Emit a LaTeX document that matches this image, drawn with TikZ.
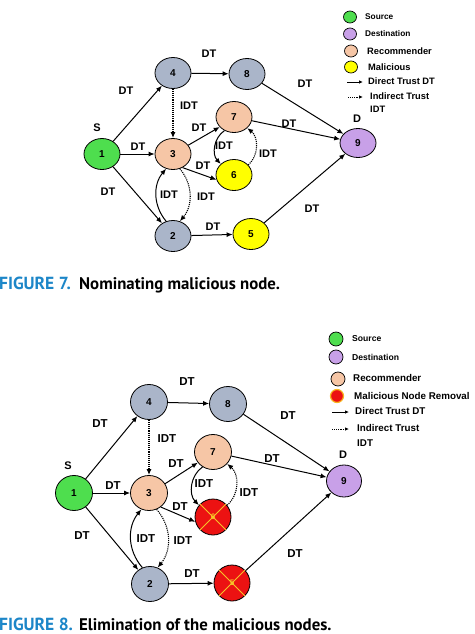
\documentclass[tikz,border=0pt]{standalone}
\usepackage{fontspec}
\setmainfont{Liberation Sans}
\newfontfamily\capfont{PT Sans}
\usetikzlibrary{shapes.geometric, arrows.meta}
\usepackage{xcolor}
\definecolor{src_green}{RGB}{78,222,78}
\definecolor{dst_purple}{RGB}{200,160,232}
\definecolor{rec_peach}{RGB}{246,198,166}
\definecolor{peer_gray}{RGB}{170,181,201}
\definecolor{mal_yellow}{RGB}{255,255,0}
\definecolor{rem_red}{RGB}{236,18,18}
\definecolor{cross_yellow}{RGB}{246,196,40}
\definecolor{cap_blue}{RGB}{28,134,200}

\newcommand{\fsz}[1]{\fontsize{#1}{#1}\selectfont\bfseries}

\tikzset{
  peer/.style={ellipse, draw, line width=0.8pt, fill=peer_gray, inner sep=0pt,
    minimum width=36pt, minimum height=31pt, font=\fsz{10}},
  big/.style={minimum width=37pt, minimum height=35pt},
  src/.style={peer, fill=src_green},
  dst/.style={peer, fill=dst_purple},
  rec/.style={peer, fill=rec_peach},
  mal/.style={peer, fill=mal_yellow},
  removed/.style={circle, draw, line width=0.8pt, fill=rem_red, minimum size=36pt,
    inner sep=0pt, font=\fsz{8}, text=cross_yellow},
  dt/.style={-{Latex[length=6pt, width=5pt]}, line width=1pt},
  idt/.style={-{Latex[length=6pt, width=5pt]}, line width=1.1pt, densely dotted},
  lbl/.style={inner sep=0pt, font=\fsz{11}},
  key/.style={ellipse, draw, line width=0.7pt, inner sep=0pt, minimum width=13pt, minimum height=12pt},
  keytext/.style={anchor=west, inner sep=0pt},
  captag/.style={anchor=base west, inner sep=0pt, font=\capfont\fsz{17.5}, text=cap_blue},
  captext/.style={anchor=base west, inner sep=0pt, font=\capfont\fsz{16.8}},
}

\begin{document}
\begin{tikzpicture}[x=1pt, y=-1pt]
  \useasboundingbox[fill=white] (0,0) rectangle (474,634);

  % ---------------- FIGURE 7 ----------------
  % 1. Nodos
  \node[src] (a1) at (102,154) {1};
  \node[peer] (a2) at (173,236) {2};
  \node[rec] (a3) at (173,154) {3};
  \node[peer] (a4) at (173,73) {4};
  \node[mal] (a5) at (251,234) {5};
  \node[mal] (a6) at (234,175) {6};
  \node[rec] (a7) at (234,117) {7};
  \node[peer] (a8) at (247,74) {8};
  \node[dst, minimum height=29pt] (a9) at (358,143) {9};
  \node[lbl] (aS) at (97,128) {S};
  \node[lbl] (aD) at (357,119) {D};

  % 2. Aristas
  \draw[dt] (a1) -- (a4);
  \draw[dt] (a1) -- (a3);
  \draw[dt] (a1) -- (a2);
  \draw[dt] (a4) -- (a8);
  \draw[dt] (a8) -- (a9);
  \draw[idt, line width=1.4pt] (a4) -- (a3);
  \draw[dt] (a3.30) -- (a7.215);
  \draw[dt] (a3.-55) -- (a6.195);
  \draw[dt] (a7) -- (a9);
  \draw[dt] (a2) -- (a5);
  \draw[dt] (a5) -- (a9);
  \draw[dt] (a7.235) to[bend right=50] (a6.140);
  \draw[idt] (a6.35) to[bend right=50] (a7.320);
  \draw[dt] (a2.115) to[bend left=40] (a3.245);
  \draw[idt] (a3.295) to[bend left=40] (a2.65);

  % 3. Etiquetas
  \node[lbl] at (126,91) {DT};
  \node[lbl] at (209,54) {DT};
  \node[lbl] at (305,84) {DT};
  \node[lbl] at (189,106) {IDT};
  \node[lbl] at (199,128) {DT};
  \node[lbl] at (289,124) {DT};
  \node[lbl] at (138,147) {DT};
  \node[lbl] at (224,146) {IDT};
  \node[lbl] at (268,154) {IDT};
  \node[lbl] at (203,166) {DT};
  \node[lbl] at (108,192) {DT};
  \node[lbl] at (169,195) {IDT};
  \node[lbl] at (206,197) {IDT};
  \node[lbl] at (312,209) {DT};
  \node[lbl] at (213,227) {DT};

  % 4. Leyenda
  \node[key, fill=src_green] (ka1) at (350,17) {};
  \node[key, fill=dst_purple] (ka2) at (350,34) {};
  \node[key, fill=rec_peach] (ka3) at (351,51) {};
  \node[key, fill=mal_yellow] (ka4) at (351,67) {};
  \node[keytext, font=\fsz{8.3}] at (365,17) {Source};
  \node[keytext, font=\fsz{8.3}] at (365,34) {Destination};
  \node[keytext, font=\fsz{9.3}] at (367,51) {Recommender};
  \node[keytext, font=\fsz{9.3}] at (368,67) {Malicious};
  \coordinate (ka5) at (347,82);
  \coordinate (ka6) at (363,82);
  \coordinate (ka7) at (348,97);
  \coordinate (ka8) at (363,97);
  \draw[dt, line width=0.8pt, -{Latex[length=4pt, width=3.5pt]}] (ka5) -- (ka6);
  \draw[idt, line width=0.8pt, -{Latex[length=4pt, width=3.5pt]}] (ka7) -- (ka8);
  \node[keytext, font=\fsz{9.3}] at (368,81) {Direct Trust DT};
  \node[keytext, font=\fsz{9.3}] at (370,96) {Indirect Trust};
  \node[keytext, font=\fsz{9.3}] at (370,109) {IDT};

  % 5. Titulo
  \node[captag] at (-1,289) {FIGURE 7.};
  \node[captext] at (79,289) {Nominating malicious node.};

  % ---------------- FIGURE 8 ----------------
  % 1. Nodos
  \node[src, big] (b1) at (74,493) {1};
  \node[peer, big] (b2) at (150,584) {2};
  \node[rec, big] (b3) at (149,493) {3};
  \node[peer, big] (b4) at (149,402) {4};
  \node[removed] (b5) at (232,583) {5};
  \node[removed] (b6) at (213,517) {6};
  \node[rec, big] (b7) at (213,452) {7};
  \node[peer, big] (b8) at (228,404) {8};
  \node[dst, minimum width=35pt, minimum height=32pt] (b9) at (344,481) {9};
  \node[lbl] (bS) at (68,466) {S};
  \node[lbl] (bD) at (343,455) {D};
  % cruces sobre los nodos eliminados
  \foreach \n in {b5,b6}{
    \draw[cross_yellow, line width=1pt] (\n.45) -- (\n.225) (\n.135) -- (\n.315);
  }

  % 2. Aristas
  \draw[dt] (b1) -- (b4);
  \draw[dt] (b1) -- (b3);
  \draw[dt] (b1) -- (b2);
  \draw[dt] (b4) -- (b8);
  \draw[dt] (b8) -- (b9);
  \draw[idt, line width=1.4pt] (b4) -- (b3);
  \draw[dt] (b3.30) -- (b7.215);
  \draw[dt] (b3.-50) -- (b6.195);
  \draw[dt] (b7) -- (b9);
  \draw[dt] (b2) -- (b5);
  \draw[dt] (b5) -- (b9);
  \draw[dt] (b7.235) to[bend right=50] (b6.140);
  \draw[idt] (b6.40) to[bend right=50] (b7.320);
  \draw[dt] (b2.115) to[bend left=40] (b3.245);
  \draw[idt] (b3.295) to[bend left=40] (b2.65);

  % 3. Etiquetas
  \node[lbl, font=\fsz{11.5}] at (100,424) {DT};
  \node[lbl, font=\fsz{11.5}] at (187,382) {DT};
  \node[lbl, font=\fsz{11.5}] at (288,416) {DT};
  \node[lbl, font=\fsz{11.5}] at (167,439) {IDT};
  \node[lbl, font=\fsz{11.5}] at (176,464) {DT};
  \node[lbl, font=\fsz{11.5}] at (272,459) {DT};
  \node[lbl, font=\fsz{11.5}] at (113,486) {DT};
  \node[lbl, font=\fsz{11.5}] at (204,484) {IDT};
  \node[lbl, font=\fsz{11.5}] at (249,493) {IDT};
  \node[lbl, font=\fsz{11.5}] at (180,507) {DT};
  \node[lbl, font=\fsz{11.5}] at (82,536) {DT};
  \node[lbl, font=\fsz{11.5}] at (146,539) {IDT};
  \node[lbl, font=\fsz{11.5}] at (183,541) {IDT};
  \node[lbl, font=\fsz{11.5}] at (295,554) {DT};
  \node[lbl, font=\fsz{11.5}] at (192,574) {DT};

  % 4. Leyenda
  \node[key, fill=src_green, minimum width=14pt, minimum height=14pt] (kb1) at (336,339) {};
  \node[key, fill=dst_purple, minimum width=14pt, minimum height=14pt] (kb2) at (336,357) {};
  \node[key, fill=rec_peach, minimum width=14pt, minimum height=14pt] (kb3) at (338,379) {};
  \node[circle, fill=rem_red, draw=cross_yellow!80!orange, line width=1.2pt, minimum size=13pt, inner sep=0pt] (kb4) at (337,396) {};
  \node[keytext, font=\fsz{8.6}] at (352,339) {Source};
  \node[keytext, font=\fsz{8.6}] at (352,357) {Destination};
  \node[keytext, font=\fsz{9.8}] at (353,378) {Recommender};
  \node[keytext, font=\fsz{9.8}] at (354,396) {Malicious Node Removal};
  \coordinate (kb5) at (332,412);
  \coordinate (kb6) at (349,412);
  \coordinate (kb7) at (332,429);
  \coordinate (kb8) at (349,429);
  \draw[dt, line width=0.8pt, -{Latex[length=4pt, width=3.5pt]}] (kb5) -- (kb6);
  \draw[idt, line width=0.8pt, -{Latex[length=4pt, width=3.5pt]}] (kb7) -- (kb8);
  \node[keytext, font=\fsz{9.8}] at (355,411) {Direct Trust DT};
  \node[keytext, font=\fsz{9.8}] at (357,428) {Indirect Trust};
  \node[keytext, font=\fsz{9.8}] at (357,443) {IDT};

  % 5. Titulo
  \node[captag] at (-1,630) {FIGURE 8.};
  \node[captext] at (79,630) {Elimination of the malicious nodes.};
\end{tikzpicture}
\end{document}
